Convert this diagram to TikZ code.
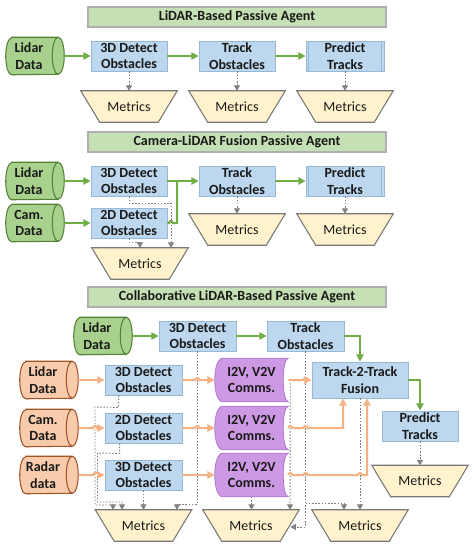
\documentclass[tikz,border=0pt]{standalone}
\usepackage{fontspec}
\setmainfont{Carlito}
\usetikzlibrary{arrows.meta,backgrounds,calc}
\definecolor{txtc}{RGB}{25,25,25}
\definecolor{titlef}{RGB}{197,224,180}
\definecolor{titleb}{RGB}{175,175,175}
\definecolor{boxf}{RGB}{189,215,238}
\definecolor{boxb}{RGB}{150,185,215}
\definecolor{metf}{RGB}{255,242,204}
\definecolor{metb}{RGB}{120,120,120}
\definecolor{gcylf}{RGB}{169,209,142}
\definecolor{gcylb}{RGB}{84,130,53}
\definecolor{ocylf}{RGB}{248,203,173}
\definecolor{ocylb}{RGB}{160,85,40}
\definecolor{garrc}{RGB}{112,173,71}
\definecolor{oarrc}{RGB}{244,177,131}
\definecolor{purf}{RGB}{206,153,228}
\definecolor{purb}{RGB}{175,120,205}
\definecolor{dotc}{RGB}{128,128,128}
\newcommand\drawcyl[3]{%
 \begin{scope}[on background layer]
 \draw[fill=#2,draw=#3,line width=0.8pt] ([xshift=4.5pt]#1.north west) -- ([xshift=4.5pt]#1.north east) arc[start angle=90,end angle=-90,x radius=4.5pt,y radius=13.875pt] -- ([xshift=4.5pt]#1.south west) arc[start angle=270,end angle=90,x radius=4.5pt,y radius=13.875pt] -- cycle;
 \draw[draw=#3,line width=0.8pt] ([xshift=4.5pt]#1.north east) arc[start angle=90,end angle=270,x radius=4.5pt,y radius=13.875pt];
 \end{scope}}
\newcommand\drawmet[1]{%
 \begin{scope}[on background layer]
 \draw[fill=metf,draw=metb,line width=0.8pt] (#1.north west) -- (#1.north east) -- ([xshift=-14.25pt]#1.south east) -- ([xshift=14.25pt]#1.south west) -- cycle;
 \end{scope}}
\newcommand\drawcomm[1]{%
 \begin{scope}[on background layer]
 \draw[fill=purf,draw=purb,line width=0.6pt] ([xshift=6pt]#1.south west) .. controls ([xshift=-2pt]#1.south west) and ([xshift=-2pt]#1.north west) .. ([xshift=6pt]#1.north west) -- (#1.north east) .. controls ([xshift=-5pt]#1.north east) and ([xshift=-5pt]#1.south east) .. (#1.south east) -- cycle;
 \end{scope}}
\newcommand\predlines[1]{%
 \draw[boxb,line width=0.5pt] ([xshift=2.25pt]#1.north west) -- ([xshift=2.25pt]#1.south west);
 \draw[boxb,line width=0.5pt] ([xshift=-2.25pt]#1.north east) -- ([xshift=-2.25pt]#1.south east);}
\begin{document}
\begin{tikzpicture}[x=0.75pt,y=0.75pt,
  txt/.style={font=\fontsize{10.5}{12.4}\selectfont\bfseries,text=txtc,align=center,inner sep=0pt},
  title/.style={txt,draw=titleb,fill=titlef,minimum width=223.5pt,minimum height=15pt,line width=0.8pt},
  bx/.style={txt,draw=boxb,fill=boxf,minimum width=57pt,minimum height=22.5pt,line width=0.6pt},
  cylb/.style={txt,minimum width=34.5pt,minimum height=27.75pt},
  comm/.style={txt,minimum width=54.75pt,minimum height=32.25pt},
  met/.style={font=\fontsize{10.5}{12.4}\selectfont,text=txtc,inner sep=0pt,minimum width=72pt,minimum height=23.25pt},
  gline/.style={draw=garrc,line width=1.5pt},
  garr/.style={gline,-{Triangle[length=5.5pt,width=5.5pt]}},
  oline/.style={draw=oarrc,line width=1.5pt},
  oarr/.style={oline,-{Triangle[length=5.5pt,width=5.5pt]}},
  dotline/.style={draw=dotc,line width=0.7pt,dash pattern=on 1.2pt off 1.2pt},
  dots/.style={dotline,-{Triangle[length=4pt,width=4.5pt]}}]
\begin{scope}[on background layer]
\fill[white] (0,0) rectangle (474,-547);
\end{scope}
\useasboundingbox (0,0) rectangle (474,-547);

% ---------- section 1
\node[title] (t1) at (237,-17) {LiDAR-Based Passive Agent};
\node[cylb] (l1) at (29,-56) {Lidar\\Data}; \drawcyl{l1}{gcylf}{gcylb}
\node[bx] (d1) at (129,-56) {3D Detect\\Obstacles};
\node[bx] (k1) at (237,-56) {Track\\Obstacles};
\node[bx,minimum width=58.5pt] (p1) at (345,-56) {Predict\\Tracks}; \predlines{p1}
\node[met] (m1a) at (129,-106.5) {Metrics}; \drawmet{m1a}
\node[met] (m1b) at (237,-106.5) {Metrics}; \drawmet{m1b}
\node[met] (m1c) at (345,-106.5) {Metrics}; \drawmet{m1c}
\draw[garr] ([xshift=9pt]l1.east) -- (d1.west);
\draw[garr] (d1.east) -- (k1.west);
\draw[garr] (k1.east) -- (p1.west);
\draw[dots] (d1.south) -- (m1a.north);
\draw[dots] (k1.south) -- (m1b.north);
\draw[dots] (p1.south) -- (m1c.north);

% ---------- section 2
\node[title] (t2) at (237,-142) {Camera-LiDAR Fusion Passive Agent};
\node[cylb] (l2) at (29,-181) {Lidar\\Data}; \drawcyl{l2}{gcylf}{gcylb}
\node[cylb] (cm2) at (29,-223) {Cam.\\Data}; \drawcyl{cm2}{gcylf}{gcylb}
\node[bx] (d2) at (129,-181) {3D Detect\\Obstacles};
\node[bx] (e2) at (129,-223) {2D Detect\\Obstacles};
\node[bx] (k2) at (237,-181) {Track\\Obstacles};
\node[bx,minimum width=58.5pt] (p2) at (345,-181) {Predict\\Tracks}; \predlines{p2}
\node[met] (m2a) at (140,-263.5) {Metrics}; \drawmet{m2a}
\node[met] (m2b) at (237,-229.5) {Metrics}; \drawmet{m2b}
\node[met] (m2c) at (345,-229.5) {Metrics}; \drawmet{m2c}
\draw[garr] ([xshift=9pt]l2.east) -- (d2.west);
\draw[garr] ([xshift=9pt]cm2.east) -- (e2.west);
\draw[garr] (d2.east) -- (k2.west);
\draw[garr] (k2.east) -- (p2.west);
\draw[dots] (d2.south) -- (129,-203) -- (171,-203) -- (171,0 |- m2a.north);
\draw[dots] (e2.south) -- (129,-242) -- (140,-242) -- (140,0 |- m2a.north);
\draw[gline] (e2.east) -- (169,-223) arc[start angle=180,end angle=0,radius=2] -- (177,-223) -- (177,-181);
\draw[dots] (k2.south) -- (m2b.north);
\draw[dots] (p2.south) -- (m2c.north);

% ---------- section 3
\node[title] (t3) at (237,-297) {Collaborative LiDAR-Based Passive Agent};
\node[cylb] (l3) at (97,-336) {Lidar\\Data}; \drawcyl{l3}{gcylf}{gcylb}
\node[bx,minimum width=57.75pt] (d3) at (197.5,-336) {3D Detect\\Obstacles};
\node[bx,minimum width=57.75pt] (k3) at (305.5,-336) {Track\\Obstacles};
\node[bx,minimum width=72pt,minimum height=27pt] (f3) at (360,-380) {Track-2-Track\\Fusion};
\node[bx] (p3) at (420,-426) {Predict\\Tracks};
\node[met] (m3p) at (420,-481) {Metrics}; \drawmet{m3p}

\node[cylb] (o1) at (43,-380) {Lidar\\Data}; \drawcyl{o1}{ocylf}{ocylb}
\node[cylb] (o2) at (43,-428) {Cam.\\Data}; \drawcyl{o2}{ocylf}{ocylb}
\node[cylb] (o3) at (43,-475) {Radar\\data}; \drawcyl{o3}{ocylf}{ocylb}
\node[bx,minimum width=57.75pt] (b1) at (143.5,-380) {3D Detect\\Obstacles};
\node[bx,minimum width=57.75pt] (b2) at (143.5,-428) {2D Detect\\Obstacles};
\node[bx,minimum width=57.75pt] (b3) at (143.5,-475) {3D Detect\\Obstacles};
\node[comm] (q1) at (251.5,-380) {I2V, V2V\\Comms.}; \drawcomm{q1}
\node[comm] (q2) at (251.5,-428) {I2V, V2V\\Comms.}; \drawcomm{q2}
\node[comm] (q3) at (251.5,-475) {I2V, V2V\\Comms.}; \drawcomm{q3}
\node[met] (m3a) at (143.5,-525.5) {Metrics}; \drawmet{m3a}
\node[met] (m3b) at (251,-525.5) {Metrics}; \drawmet{m3b}
\node[met] (m3c) at (360,-525.5) {Metrics}; \drawmet{m3c}

% dotted (drawn first, orange hops over them)
\draw[dots] ($(b1.south west)+(14,0)$) -- ++(0,-12) -- (95,-407) -- (95,-505) -- (113,-505) -- (113,0 |- m3a.north);
\draw[dots] ($(b2.south west)+(15,0)$) -- ++(0,-10) -- (97.5,-453) -- (97.5,-502) -- (122,-502) -- (122,0 |- m3a.north);
\draw[dots] (b3.south) -- (b3.south |- m3a.north);
\draw[dots] (d3.south) |- (177,-504) -- (177,0 |- m3a.north);
\draw[dots] (q3.south) -- (q3.south |- m3b.north);
\draw[dots] ($(q1.east)+(2,-3)$) -- (290,0 |- m3b.north);
\draw[dots] (k3.south) -- (305.5,-527) -- (290.5,-527);
\draw[dots] (305.5,-503) -- (344,-503) -- (344,0 |- m3c.north);
\draw[dots] (f3.south) -- (f3.south |- m3c.north);
\draw[dots] (p3.south) -- (m3p.north);

% green
\draw[garr] ([xshift=9pt]l3.east) -- (d3.west);
\draw[garr] (d3.east) -- (k3.west);
\draw[garr] (k3.east) -| (f3.north);
\draw[garr] (f3.east) -| (p3.north);

% orange
\draw[oarr] ([xshift=9pt]o1.east) -- (b1.west);
\draw[oline] ([xshift=9pt]o2.east) -- (93,-428) arc[start angle=180,end angle=0,radius=2] -- (99,-428);
\draw[oarr] (97,-428) -- (b2.west);
\draw[oline] ([xshift=9pt]o3.east) -- (93.5,-475) arc[start angle=180,end angle=0,radius=2.5] -- (99.5,-475);
\draw[oarr] (98,-475) -- (b3.west);
\draw[oarr] (b1.east) -- (195.5,-380) arc[start angle=180,end angle=0,radius=2] -- (q1.west);
\draw[oarr] (b2.east) -- (195.5,-428) arc[start angle=180,end angle=0,radius=2] -- (q2.west);
\draw[oarr] (b3.east) -- (q3.west);
\draw[oline] (q1.east) -- (303.5,-380) arc[start angle=180,end angle=0,radius=2] -- (308,-380);
\draw[oarr] (306.5,-380) -- (f3.west);
\draw[oarr] (q2.east) arc[start angle=180,end angle=0,radius=2] -- (303.5,-428) arc[start angle=180,end angle=0,radius=2] -- (343,-428) -- (343,0 |- f3.south);
\draw[oarr] (q3.east) arc[start angle=180,end angle=0,radius=2] -- (303.5,-475) arc[start angle=180,end angle=0,radius=2] -- (358,-475) arc[start angle=180,end angle=0,radius=2] -- (367,-475) -- (367,0 |- f3.south);
\end{tikzpicture}
\end{document}
